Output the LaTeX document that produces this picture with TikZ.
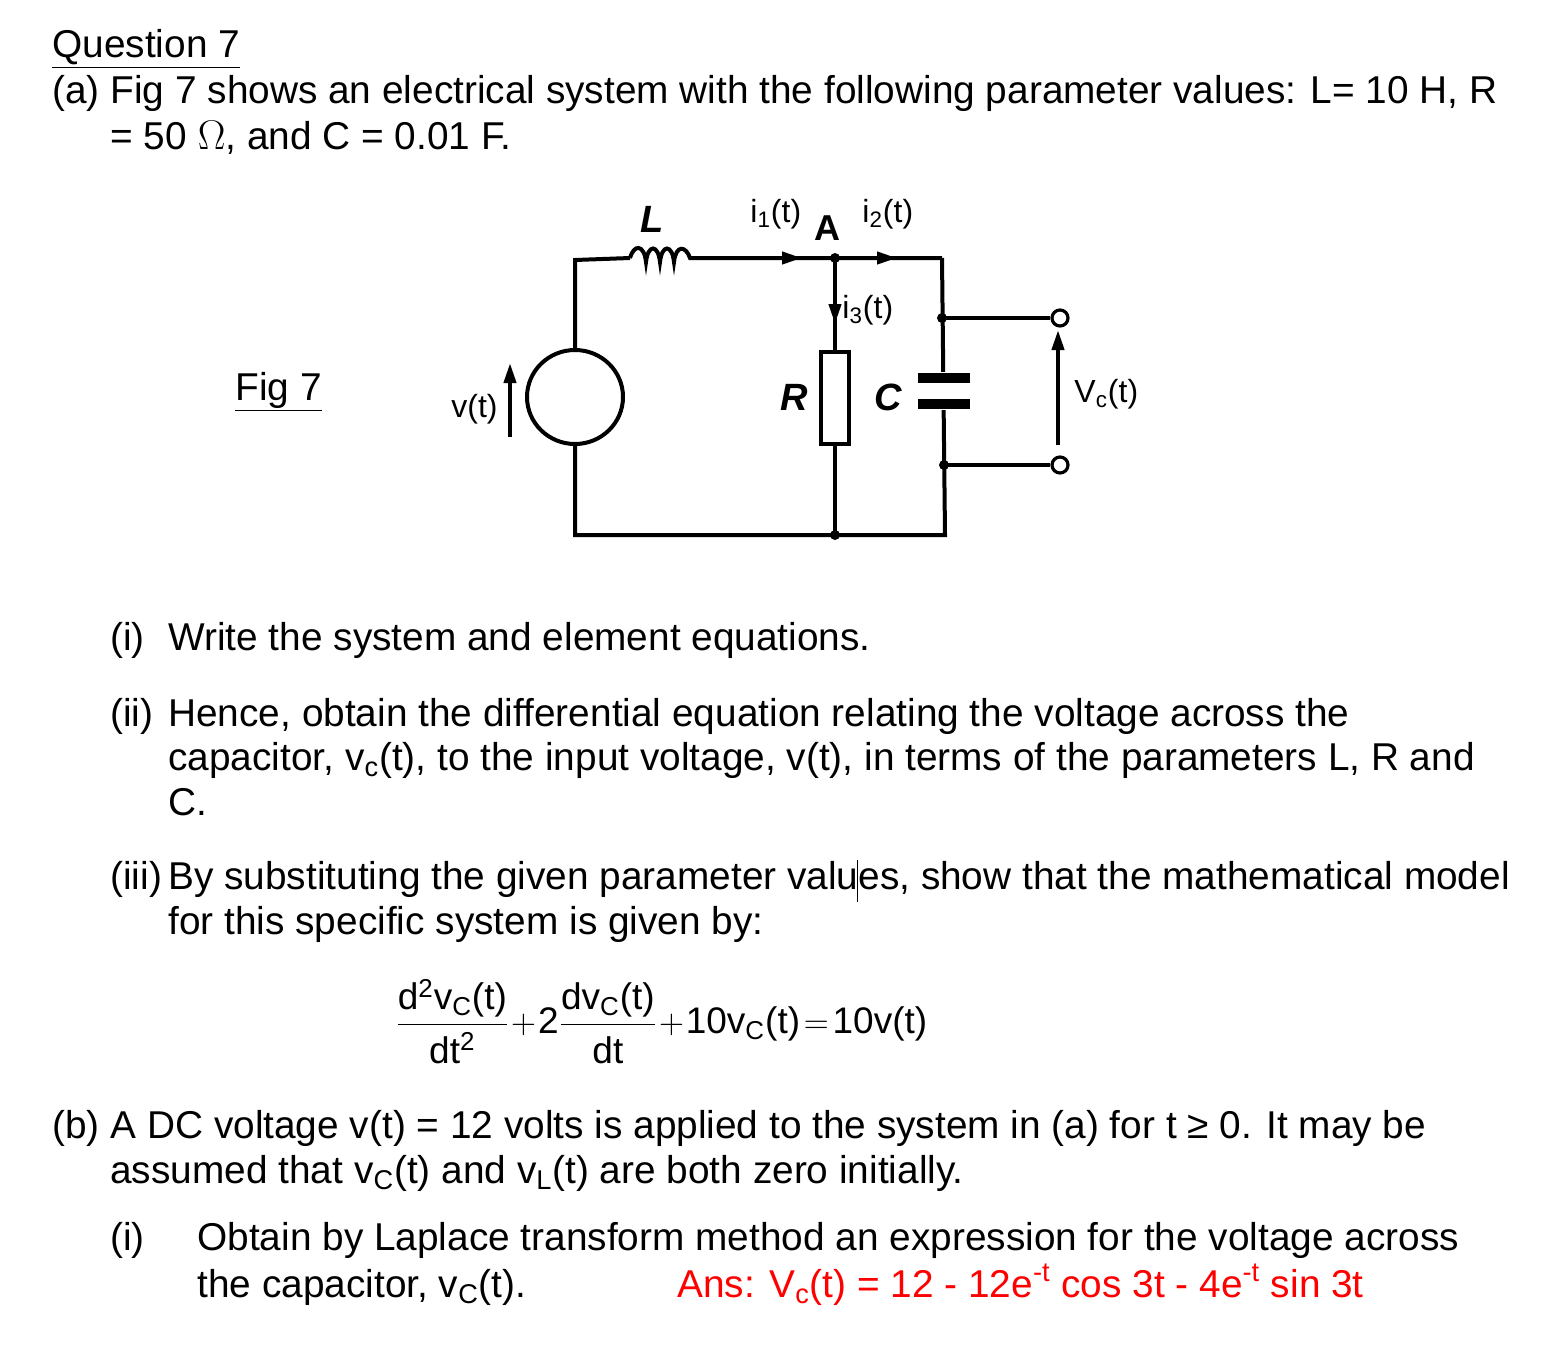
\documentclass[tikz,border=0pt]{standalone}
\usepackage{fontspec}
\setmainfont{Liberation Sans}
\usetikzlibrary{arrows.meta,shapes.geometric}
\begin{document}
\begin{tikzpicture}[x=0.5pt,y=-0.5pt,
  txt/.style={anchor=base west,inner sep=0pt,font=\fontsize{19.4}{23}\selectfont},
  lab/.style={inner sep=0pt,font=\fontsize{16}{18}\selectfont},
  blab/.style={inner sep=0pt,font=\fontsize{19}{20}\selectfont\bfseries\itshape},
  wire/.style={line width=2pt},
  arr/.style={-{Triangle[length=10pt,width=6pt]}},
  term/.style={circle,draw,line width=1.6pt,inner sep=0pt,minimum size=8pt,fill=white}]
\useasboundingbox (0,0) rectangle (1557,1344);
% texts
\node[txt] (q) at (52,57) {\underline{Question 7}};
\node[txt] (a1) at (52,103) {(a) Fig 7 shows an electrical system with the following parameter values: L= 10 H, R};
\node[txt] (a2) at (110,149) {= 50 $\Omega$, and C = 0.01 F.};
\node[txt] (fig) at (235,400) {\underline{Fig 7}};
\node[txt] (i1) at (110,650) {(i)};
\node[txt] (i1t) at (168,650) {Write the system and element equations.};
\node[txt] (ii) at (110,726) {(ii)};
\node[txt] (ii1) at (168,726) {Hence, obtain the differential equation relating the voltage across the};
\node[txt] (ii2) at (168,770) {capacitor, v\textsubscript{c}(t), to the input voltage, v(t), in terms of the parameters L, R and};
\node[txt] (ii3) at (168,815) {C.};
\node[txt] (iii) at (110,889) {(iii)};
\node[txt] (iii1) at (168,889) {By substituting the given parameter values, show that the mathematical model};
\node[txt] (iii2) at (168,934) {for this specific system is given by:};
\draw[line width=0.5pt] (857,860) -- (857,902);
\node[txt,font=\fontsize{18.5}{22}\selectfont] (eq) at (395,1033) {$\displaystyle
 \frac{\hbox{d\textsuperscript{2}v\textsubscript{C}(t)}\rule[-5pt]{0pt}{5pt}}{\rule{0pt}{18pt}\hbox{dt\textsuperscript{2}}}
 \!+\!\hbox{2}\frac{\hbox{dv\textsubscript{C}(t)}\rule[-5pt]{0pt}{5pt}}{\rule{0pt}{18pt}\hbox{dt}}
 \!+\!\hbox{10v\textsubscript{C}(t)}\!=\!\hbox{10v(t)}$};
\node[txt] (b1) at (52,1138) {(b) A DC voltage v(t) = 12 volts is applied to the system in (a) for t ≥ 0. It may be};
\node[txt] (b2) at (110,1183) {assumed that v\textsubscript{C}(t) and v\textsubscript{L}(t) are both zero initially.};
\node[txt] (bi) at (110,1250) {(i)};
\node[txt] (bi1) at (197,1250) {Obtain by Laplace transform method an expression for the voltage across};
\node[txt] (bi2) at (197,1297) {the capacitor, v\textsubscript{C}(t).};
\node[txt,text=red] (ans) at (677,1297) {Ans: V\textsubscript{c}(t) = 12 - 12e\textsuperscript{-t} cos 3t - 4e\textsuperscript{-t} sin 3t};
% circuit
\coordinate (tl) at (575,260);
\coordinate (l1) at (630,258);
\coordinate (l2) at (695,258);
\coordinate (A) at (835,258);
\coordinate (tr) at (942,258);
\coordinate (bl) at (575,535);
\coordinate (bm) at (835,535);
\coordinate (br) at (945,535);
\node[draw,wire,ellipse,minimum width=48pt,minimum height=47pt,inner sep=0pt] (src) at (575,397) {};
\node[draw,wire,minimum width=14pt,minimum height=46pt,inner sep=0pt] (res) at (835,398) {};
\draw[wire] (src.north) -- (tl) -- (l1);
\draw[wire] (l1) .. controls (634,244) and (644,244) .. (646,262) .. controls (648,244) and (658,244) .. (660,262)
  .. controls (662,244) and (672,244) .. (674,262) .. controls (676,244) and (686,246) .. (690,258) -- (l2) -- (tr);
\draw[wire] (src.south) -- (bl) -- (br) -- (tr);
\draw[wire] (A) -- (res.north); \draw[wire] (res.south) -- (bm);
\fill (A) circle (2.5pt); \fill (bm) circle (2.5pt);
\draw[wire,arr] (760,258) -- (802,258);
\draw[wire,arr] (860,258) -- (897,258);
\draw[wire,arr] (835,280) -- (835,324);
% capacitor
\fill[white] (930,372) rectangle (958,410);
\draw[line width=5pt] (918,378) -- (970,378);
\draw[line width=5pt] (918,404) -- (970,404);
% terminals
\node[term] (t1) at (1060,318) {};
\node[term] (t2) at (1060,465) {};
\draw[wire] (942,318) -- (t1.west);
\draw[wire] (944,465) -- (t2.west);
\fill (942,318) circle (2.5pt); \fill (944,465) circle (2.5pt);
\draw[wire,arr] (1058,445) -- (1058,330);
\draw[wire,arr] (510,437) -- (510,363);
% labels
\node[lab,anchor=base west] (vt) at (451,417) {v(t)};
\node[lab,anchor=base west] (vc) at (1074,402) {V\textsubscript{c}(t)};
\node[lab,anchor=base west] (li1) at (750,222) {i\textsubscript{1}(t)};
\node[lab,anchor=base west] (li2) at (862,222) {i\textsubscript{2}(t)};
\node[lab,anchor=base west] (li3) at (842,318) {i\textsubscript{3}(t)};
\node[lab,anchor=base west,font=\fontsize{18}{20}\selectfont\bfseries] (la) at (814,240) {A};
\node[blab,anchor=base west] (lL) at (640,232) {L};
\node[blab,anchor=base west] (lR) at (780,410) {R};
\node[blab,anchor=base west] (lC) at (874,410) {C};
\end{tikzpicture}
\end{document}
